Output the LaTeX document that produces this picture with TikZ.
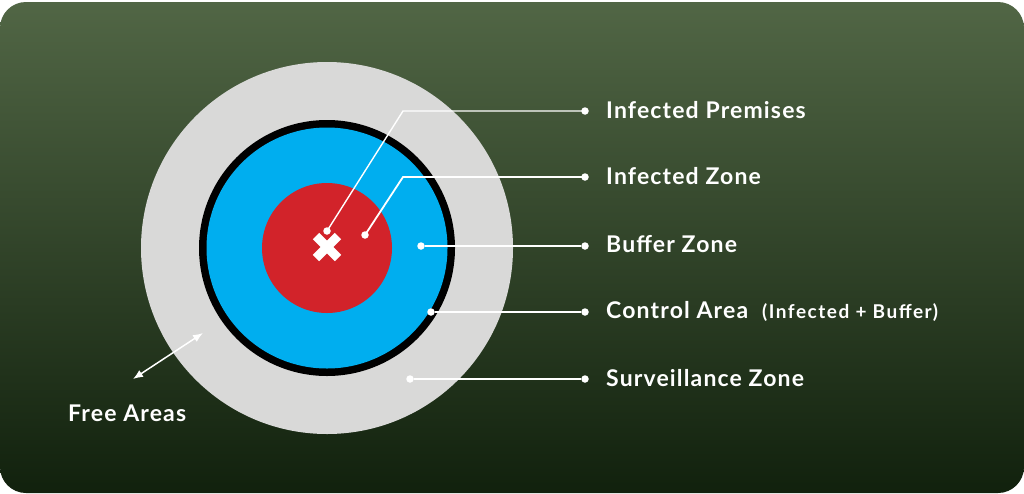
\documentclass[tikz,border=0pt]{standalone}
\usepackage{fontspec}
\setmainfont{Lato}[LetterSpace=5]
\usetikzlibrary{arrows.meta}

\definecolor{bgtop}{RGB}{81,102,69}
\definecolor{bgbot}{RGB}{17,33,13}
\definecolor{survgray}{RGB}{217,217,216}
\definecolor{bufblue}{RGB}{0,174,239}
\definecolor{infred}{RGB}{210,35,42}

\tikzset{
  dot/.style={circle, fill=white, inner sep=0pt, minimum size=7.5pt},
  leader/.style={white, line width=1.8pt},
  zonelabel/.style={anchor=west, text=white, inner sep=0pt,
    font=\bfseries\fontsize{23}{27}\selectfont},
}

\begin{document}
\begin{tikzpicture}[x=1pt,y=-1pt]
        \useasboundingbox (0,0) rectangle (1024,493);
        \fill[white] (0,0) rectangle (1024,493);
        \shade[top color=bgtop, bottom color=bgbot, rounded corners=26pt] (0,2) rectangle (1024,493);

        % zones
        \fill[survgray] (327,248) circle (186);
        \fill[black] (327,248) circle (128);
        \fill[bufblue] (327,248) circle (120.5);
        \fill[infred] (327,248) circle (65);
        \draw[white, line width=9pt] (316,236) -- (338,258);
        \draw[white, line width=9pt] (338,236) -- (316,258);

        % leader dots
        \node[dot] (ipdot) at (327,231) {};
        \node[dot] (izdot) at (365,235) {};
        \node[dot] (bzdot) at (421,246) {};
        \node[dot] (cadot) at (431,312) {};
        \node[dot] (szdot) at (410,379) {};
        \node[dot] (ipend) at (585,111) {};
        \node[dot] (izend) at (585,177) {};
        \node[dot] (bzend) at (585,246) {};
        \node[dot] (caend) at (585,312) {};
        \node[dot] (szend) at (585,379) {};

        \draw[leader, line width=1.4pt] (ipdot.center) -- (403,111) -- (ipend.center);
        \draw[leader] (izdot.center) -- (403,177) -- (izend.center);
        \draw[leader] (bzdot) -- (bzend);
        \draw[leader, line width=2.4pt] (cadot) -- (caend);
        \draw[leader] (szdot) -- (szend);

        % labels
        \node[zonelabel] (iplabel) at (606,110) {Infected Premises};
        \node[zonelabel] (izlabel) at (606,176) {Infected Zone};
        \node[zonelabel] (bzlabel) at (606,244) {Buffer Zone};
        \node[zonelabel] (calabel) at (606,311) {Control Area\hspace{14pt}{\fontsize{19}{21}\selectfont\addfontfeature{LetterSpace=8}(Infected + Buffer)}};
        \node[zonelabel] (szlabel) at (606,378) {Surveillance Zone};

        % free areas
        \coordinate (fain) at (203,333);
        \coordinate (faout) at (133,379);
        \draw[white, line width=1.5pt, {Latex[length=10pt,width=8pt]}-{Latex[length=10pt,width=8pt]}] (faout) -- (fain);
        \node[zonelabel] (falabel) at (68,413) {Free Areas};
\end{tikzpicture}
\end{document}
